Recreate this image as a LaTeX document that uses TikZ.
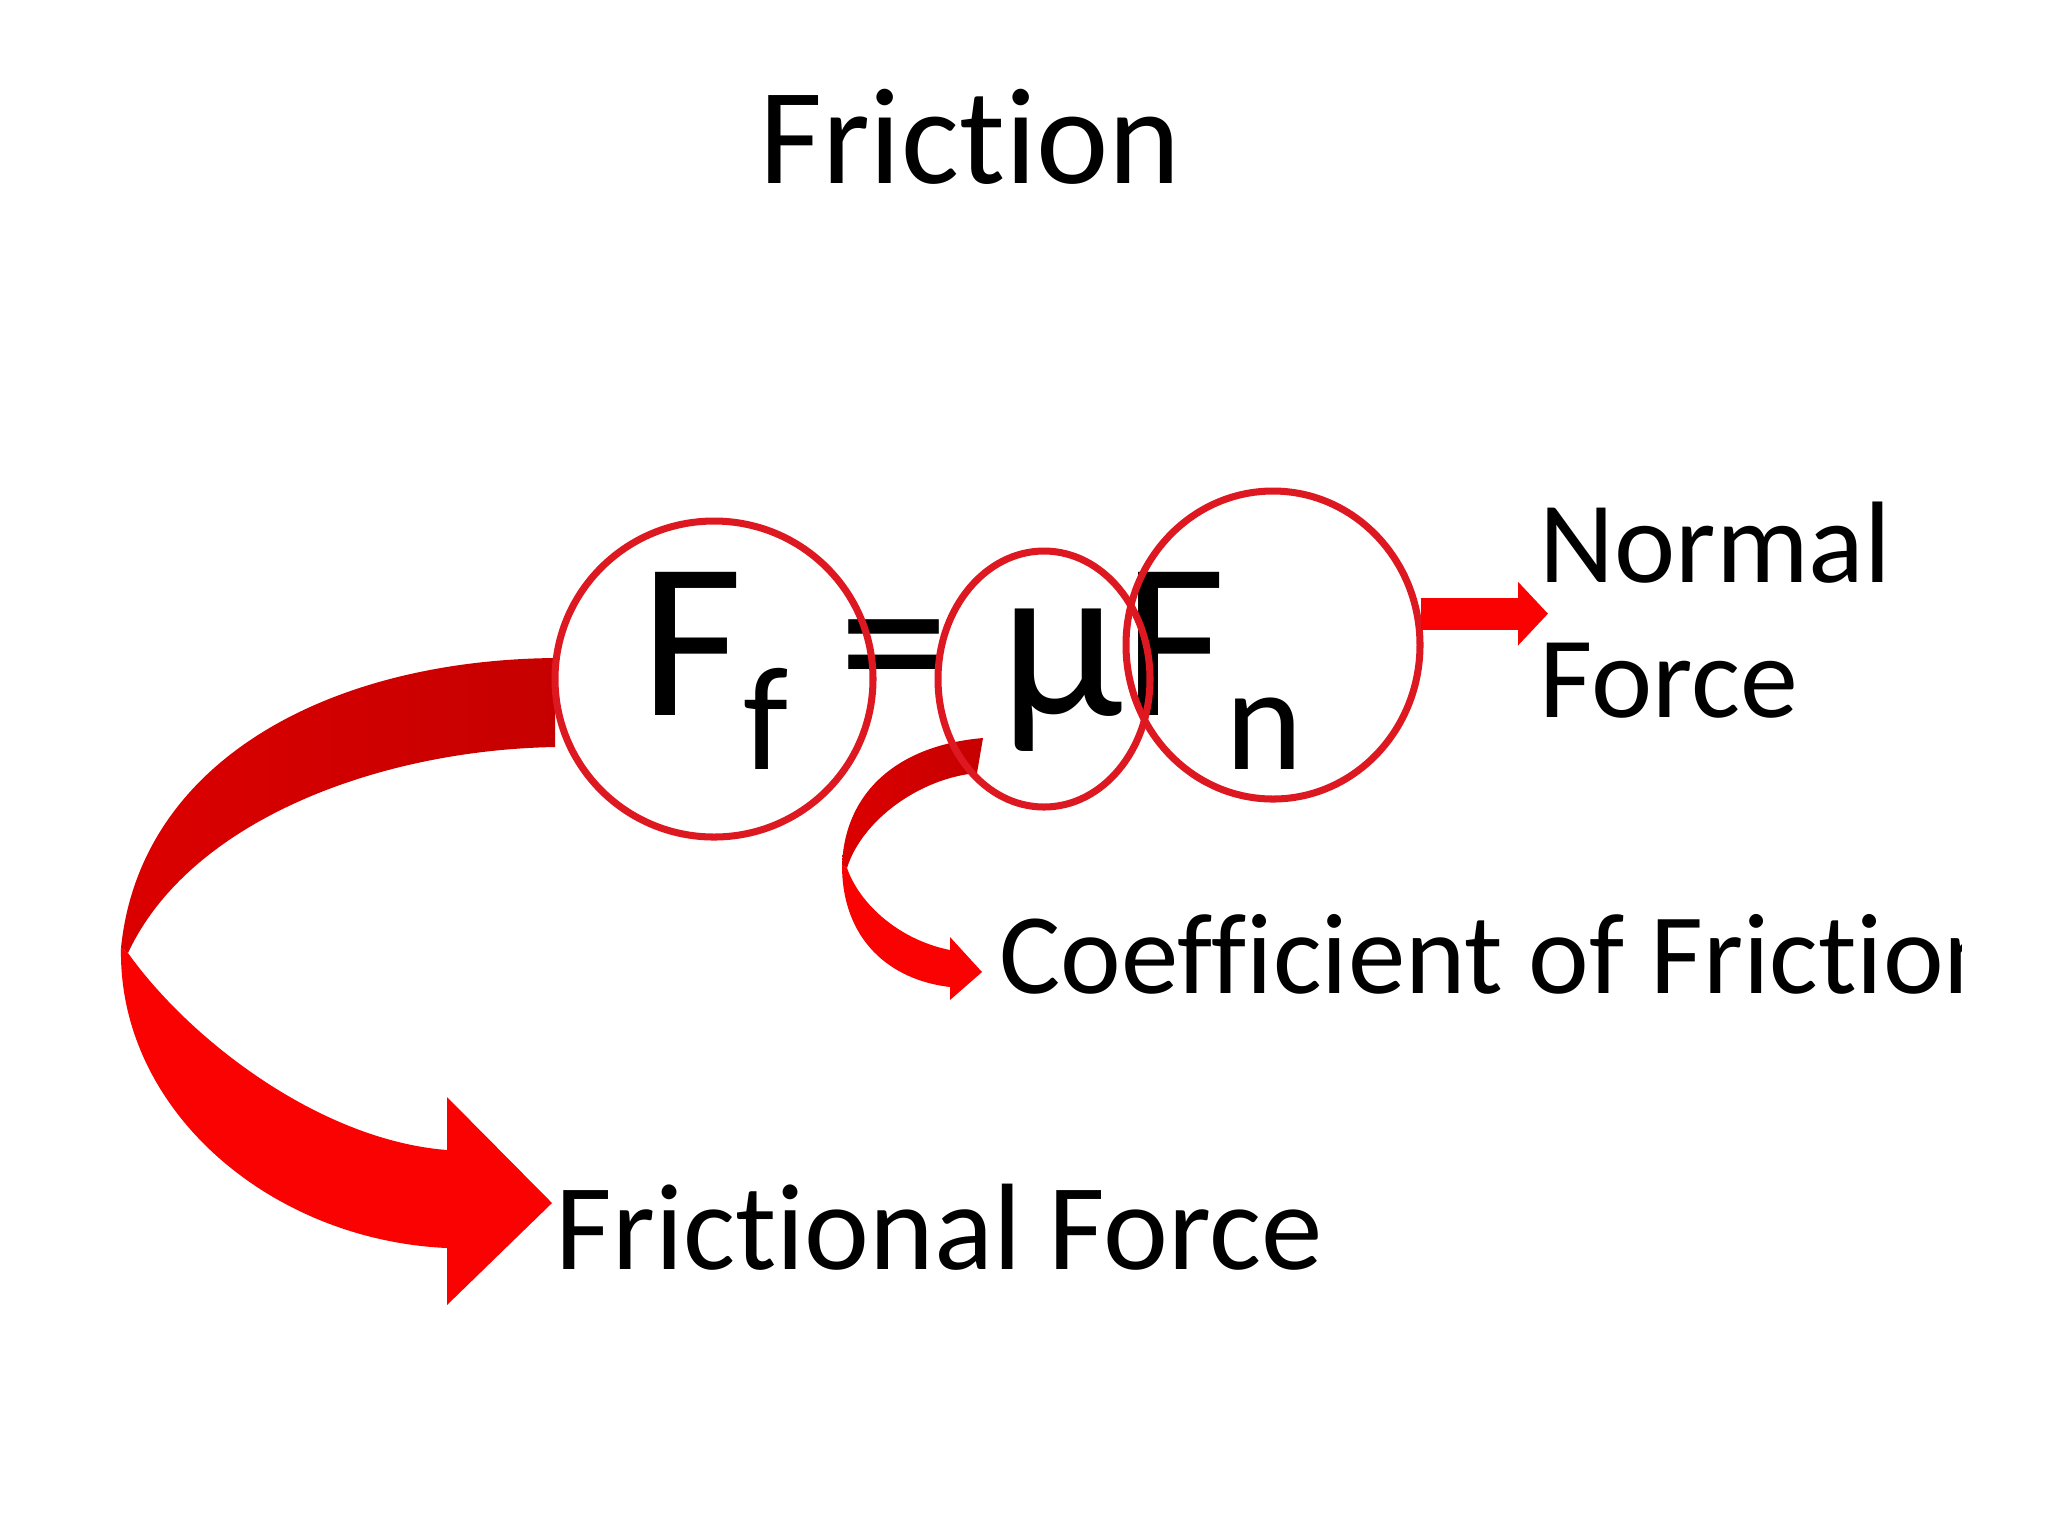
\documentclass[tikz,border=0pt]{standalone}
\usepackage{fontspec}
\setmainfont{Carlito}[Ligatures=NoCommon]
\usetikzlibrary{calc,shapes.geometric,arrows.meta,backgrounds}

\definecolor{ringred}{RGB}{222,24,32}
\definecolor{backred}{RGB}{198,0,0}
\definecolor{midred}{RGB}{220,0,0}
\definecolor{frontred}{RGB}{250,2,2}

\newcommand{\lowpart}[1]{\raisebox{-15.6pt}{\fontsize{42}{42}\selectfont #1}}

\tikzset{
  ring/.style={ellipse, draw=ringred, line width=2pt, inner sep=0pt},
  word/.style={anchor=base west, inner sep=0pt, font=\fontsize{33}{40}\selectfont},
}

\begin{document}
\begin{tikzpicture}[x=0.1mm, y=-0.1mm]
  \useasboundingbox (0,0) rectangle (2048,1536);

  \node[anchor=base, inner sep=0pt, font=\fontsize{39}{46}\selectfont] (title) at (970,183) {Friction};

  \node[anchor=base west, inner sep=0pt, font=\fontsize{63.5}{70}\selectfont] (eq) at (640,715)
    {F\lowpart{f} = μF\lowpart{n}};

  \node[ring, minimum width=31.8mm, minimum height=31.6mm] (ffring) at (714,679) {};
  \node[ring, minimum width=21.2mm, minimum height=25.6mm] (muring) at (1044,679) {};
  \node[ring, minimum width=29.4mm, minimum height=30.8mm] (fnring) at (1273,645) {};

  \node[word] (normal) at (1539,582) {Normal};
  \node[word] (force) at (1539,717) {Force};
  \begin{scope}
    \clip (0,0) rectangle (1961,1536);
    \node[word, font=\fontsize{32.7}{40}\selectfont] (coef) at (999,993) {Coefficient of Friction};
  \end{scope}
  \node[word, font=\fontsize{35}{42}\selectfont] (fric) at (555,1269) {Frictional Force};

  \coordinate (ntip) at (1548,614);
  \draw[frontred, line width=3.2mm, -{Triangle[length=3mm, width=6.2mm]}]
    (fnring.12) -- (ntip |- fnring.12);

  \begin{scope}[on background layer]
    \fill[white] (0,0) rectangle (2048,1536);
    % wide ribbon down to Frictional Force
    \shade[left color=midred, right color=backred]
      (555,658) .. controls (330,660) and (140,760) .. (121,948)
      -- (128,953) .. controls (190,820) and (380,750) .. (555,747) -- cycle;
    \fill[frontred] (121,948) .. controls (118,1110) and (270,1240) .. (447,1248)
      -- (447,1305) -- (552,1203) -- (447,1097) -- (447,1150)
      .. controls (320,1140) and (190,1040) .. (128,953) -- cycle;
    % thin ribbon down to the coefficient
    \shade[left color=midred, right color=backred]
      (983,738) .. controls (900,745) and (845,790) .. (842,865)
      -- (847,868) .. controls (862,820) and (920,778) .. (977,773) -- cycle;
    \fill[frontred] (842,865) .. controls (842,940) and (890,980) .. (950,987)
      -- (950,1000) -- (982,972) -- (950,937) -- (950,950)
      .. controls (900,940) and (860,905) .. (847,868) -- cycle;
  \end{scope}
\end{tikzpicture}
\end{document}
